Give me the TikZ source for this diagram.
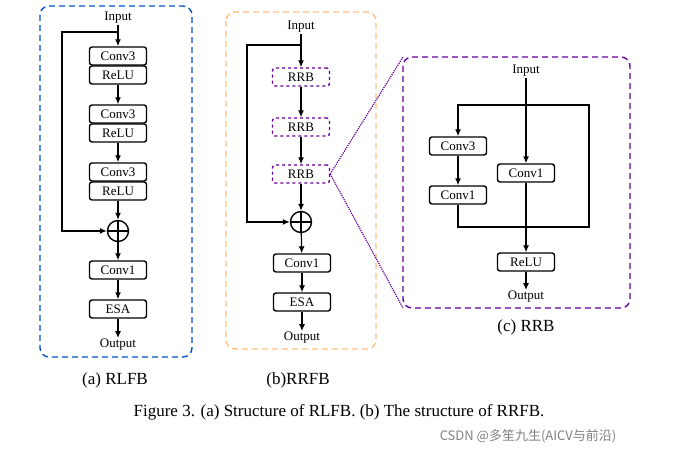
\documentclass[tikz,border=0pt]{standalone}
\usepackage{fontspec}
\setmainfont{Liberation Serif}
\newfontfamily\cjk{Noto Sans CJK SC}
\usetikzlibrary{positioning}
\usetikzlibrary{arrows.meta}

\begin{document}
\begin{tikzpicture}[
                x=1pt, y=-1pt,
                blk/.style = {
                    draw,
                    line width = 1.4pt,
                    rounded corners = 2.5pt,
                    minimum width = #1,
                    minimum height = 18pt,
                    inner sep = 0pt,
                    font = \fontsize{13}{13}\selectfont
                },
                blk/.default = 57pt,
                rrb/.style = {blk, draw=violet!80!blue, dashed},
                lbl/.style = {font = \fontsize{13}{13}\selectfont, inner sep = 1pt},
                subcap/.style = {font = \fontsize{17}{17}\selectfont},
                frame/.style = {line width = 1.4pt, dash pattern = on 6pt off 4pt, rounded corners = 9pt},
                plus/.style = {draw, line width = 1.4pt, circle, minimum size = 21pt, inner sep = 0pt,
                    path picture = {\draw[line width = 1.4pt] (path picture bounding box.north) -- (path picture bounding box.south)
                        (path picture bounding box.west) -- (path picture bounding box.east);}},
                arr/.style = {-{Latex[length=7pt, width=6pt]}, line width = 1.2pt},
                ln/.style = {line width = 1.6pt}
            ]
            \useasboundingbox (0,0) rectangle (673,454);
            % (a) RLFB
            \draw[frame, blue!60!cyan!80!black] (40,6) rectangle (192,357);
            \node[lbl] (inA) at (118,18) {Input};
            \node[blk] (c1) at (118,56) {Conv3};
            \node[blk] (r1) at (118,75) {ReLU};
            \node[blk] (c2) at (118,114) {Conv3};
            \node[blk] (r2) at (118,133) {ReLU};
            \node[blk] (c3) at (118,172) {Conv3};
            \node[blk] (r3) at (118,191) {ReLU};
            \node[plus] (pA) at (118,231) {};
            \node[blk] (k1) at (118,270) {Conv1};
            \node[blk] (e1) at (118,309) {ESA};
            \node[lbl] (outA) at (118,345) {Output};
            \coordinate (sA) at (118,32);
            \draw[arr] (inA) -- (c1);
            \draw[arr] (r1) -- (c2);
            \draw[arr] (r2) -- (c3);
            \draw[arr] (r3) -- (pA);
            \draw[arr] (pA) -- (k1);
            \draw[arr] (k1) -- (e1);
            \draw[arr] (e1) -- (outA);
            \draw[arr] (sA) -- (62,32) -- (62,231) -- (pA);
            \node[subcap] (capA) at (115,380) {(a) RLFB};
            % (b) RRFB
            \draw[frame, orange!50] (226,12) rectangle (376,349);
            \node[lbl] (inB) at (301,27) {Input};
            \node[rrb] (b1) at (301,77) {RRB};
            \node[rrb] (b2) at (301,127) {RRB};
            \node[rrb] (b3) at (301,174) {RRB};
            \node[plus] (pB) at (301,222) {};
            \node[blk] (k2) at (302,263) {Conv1};
            \node[blk] (e2) at (302,302) {ESA};
            \node[lbl] (outB) at (302,338) {Output};
            \coordinate (sB) at (301,45);
            \draw[arr] (inB) -- (b1);
            \draw[arr] (b1) -- (b2);
            \draw[arr] (b2) -- (b3);
            \draw[arr] (b3) -- (pB);
            \draw[arr] (pB) -- (k2);
            \draw[arr] (k2) -- (e2);
            \draw[arr] (e2) -- (outB);
            \draw[arr] (sB) -- (247,45) -- (247,222) -- (pB);
            \node[subcap] (capB) at (298,380) {(b)RRFB};
            % (c) RRB
            \draw[frame, violet!80!blue] (403,57) rectangle (630,308);
            \draw[densely dotted, line width = 1.2pt, violet!80!blue] (b3.east) -- (403,57) (b3.east) -- (403,308);
            \node[lbl] (inC) at (526,71) {Input};
            \node[blk] (q1) at (458,146) {Conv3};
            \node[blk] (q2) at (458,195) {Conv1};
            \node[blk] (q3) at (526,173) {Conv1};
            \node[blk] (q4) at (526,262) {ReLU};
            \node[lbl] (outC) at (526,297) {Output};
            \coordinate (top) at (526,105);
            \coordinate (bot) at (526,227);
            \draw[arr] (inC) -- (top) -- (q3);
            \draw[arr] (top) -- (458,105) -- (q1);
            \draw[arr] (q1) -- (q2);
            \draw[ln] (top) -- (589,105) -- (589,227) -- (bot);
            \draw[ln] (q2) -- (458,227) -- (bot);
            \draw[arr] (q3) -- (q4);
            \draw[arr] (q4) -- (outC);
            \node[subcap] (capC) at (526,327) {(c) RRB};
            % figure caption
            \node[subcap] (fig) at (339,412) {Figure 3. (a) Structure of RLFB. (b) The structure of RRFB.};
            \node[font=\cjk\fontsize{13}{13}\selectfont, text=gray] (wm) at (528,436) {CSDN @多笙九生(AICV与前沿)};
        \end{tikzpicture}
\end{document}
